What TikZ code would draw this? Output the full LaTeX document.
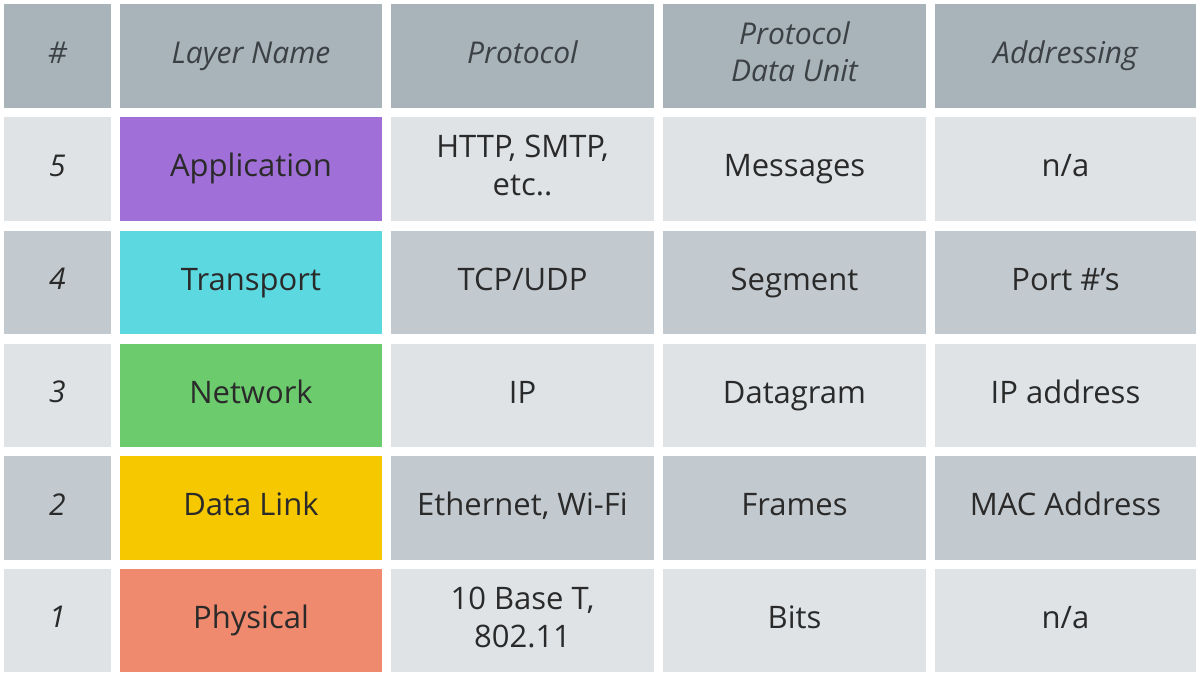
\documentclass[tikz,border=0pt]{standalone}
\usepackage{fontspec}
\setmainfont{Open Sans}
\definecolor{hdr}{HTML}{A9B3BA}
\definecolor{lite}{HTML}{DFE3E6}
\definecolor{dark}{HTML}{C3CACF}
\definecolor{txt}{HTML}{2A2A2A}
\definecolor{htxt}{HTML}{3C4146}
\definecolor{app}{HTML}{A070D8}
\definecolor{tra}{HTML}{5CD9E0}
\definecolor{net}{HTML}{6CCB6C}
\definecolor{dl}{HTML}{F5C800}
\definecolor{phy}{HTML}{F08A6E}
\begin{document}
\begin{tikzpicture}[x=1pt,y=-1pt,
  cell/.style={inner sep=0pt,align=center,font=\fontsize{31}{38}\selectfont,text=txt},
  hcell/.style={cell,text=htxt,font=\fontsize{30}{37}\selectfont\itshape},
  ncell/.style={cell,font=\fontsize{30}{37}\selectfont\itshape}]
\useasboundingbox[fill=white] (0,0) rectangle (1200,674);
\def\cx{{4,120,391,663,935}}
\def\cw{{107,262,263,263,261}}
\def\ry{{4,117,231,344,456,569}}
\def\rh{{104,104,103,103,104,103}}
\newcommand\mycell[6]{% col,row,fill,style,name,text
  \pgfmathsetmacro\xa{\cx[#1]}\pgfmathsetmacro\ya{\ry[#2]}
  \pgfmathsetmacro\xb{\cx[#1]+\cw[#1]}\pgfmathsetmacro\yb{\ry[#2]+\rh[#2]}
  \fill[#3] (\xa,\ya) rectangle (\xb,\yb);
  \node[#4] (#5) at ({(\xa+\xb)/2},{(\ya+\yb)/2}) {\strut#6};}
\mycell{0}{0}{hdr}{hcell}{h0}{\#}
\mycell{1}{0}{hdr}{hcell}{h1}{Layer Name}
\mycell{2}{0}{hdr}{hcell}{h2}{Protocol}
\mycell{3}{0}{hdr}{hcell}{h3}{Protocol\\\strut Data Unit}
\mycell{4}{0}{hdr}{hcell}{h4}{Addressing}
% row 5
\mycell{0}{1}{lite}{ncell}{n5}{5}
\mycell{1}{1}{app}{cell}{l5}{Application}
\mycell{2}{1}{lite}{cell}{p5}{HTTP, SMTP,\\\strut etc..}
\mycell{3}{1}{lite}{cell}{u5}{Messages}
\mycell{4}{1}{lite}{cell}{a5}{n/a}
% row 4
\mycell{0}{2}{dark}{ncell}{n4}{4}
\mycell{1}{2}{tra}{cell}{l4}{Transport}
\mycell{2}{2}{dark}{cell}{p4}{TCP/UDP}
\mycell{3}{2}{dark}{cell}{u4}{Segment}
\mycell{4}{2}{dark}{cell}{a4}{Port \#’s}
% row 3
\mycell{0}{3}{lite}{ncell}{n3}{3}
\mycell{1}{3}{net}{cell}{l3}{Network}
\mycell{2}{3}{lite}{cell}{p3}{IP}
\mycell{3}{3}{lite}{cell}{u3}{Datagram}
\mycell{4}{3}{lite}{cell}{a3}{IP address}
% row 2
\mycell{0}{4}{dark}{ncell}{n2}{2}
\mycell{1}{4}{dl}{cell}{l2}{Data Link}
\mycell{2}{4}{dark}{cell}{p2}{Ethernet, Wi-Fi}
\mycell{3}{4}{dark}{cell}{u2}{Frames}
\mycell{4}{4}{dark}{cell}{a2}{MAC Address}
% row 1
\mycell{0}{5}{lite}{ncell}{n1}{1}
\mycell{1}{5}{phy}{cell}{l1}{Physical}
\mycell{2}{5}{lite}{cell}{p1}{10 Base T,\\\strut 802.11}
\mycell{3}{5}{lite}{cell}{u1}{Bits}
\mycell{4}{5}{lite}{cell}{a1}{n/a}
\end{tikzpicture}
\end{document}
